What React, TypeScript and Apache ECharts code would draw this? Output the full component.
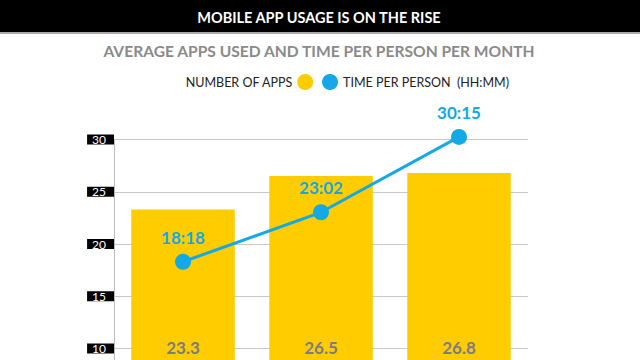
import React, { useEffect, useRef } from "react";
import * as echarts from "echarts";

const categories = ["A", "B", "C"];
const appCounts = [23.3, 26.5, 26.8];
const timePerPerson = ["18:18", "23:02", "30:15"];
const yTicks = [5, 10, 15, 20, 25, 30];

const toHours = (s: string) => {
  const [h, m] = s.split(":").map(Number);
  return h + m / 60;
};

const YELLOW = "#FFCC00";
const BLUE = "#14A9E6";
const FONT = "Lato, 'Open Sans', sans-serif";

export default function App() {
  const ref = useRef<HTMLDivElement>(null);
  useEffect(() => {
    if (!ref.current) return;
    const chart = echarts.init(ref.current, null, { renderer: "svg" });
    chart.setOption({
      animation: false,
      textStyle: { fontFamily: FONT },
      graphic: [
        { type: "rect", shape: { x: 0, y: 0, width: 640, height: 32 }, style: { fill: "#000" } },
        { type: "rect", shape: { x: 0, y: 32, width: 640, height: 2 }, style: { fill: "#aaa" } },
        {
          type: "text",
          x: 319,
          y: 17.5,
          style: {
            text: "MOBILE APP USAGE IS ON THE RISE",
            fill: "#fff",
            font: `bold 14.5px ${FONT}`,
            textAlign: "center",
            textVerticalAlign: "middle",
          },
        },
        {
          type: "text",
          x: 319,
          y: 51,
          style: {
            text: "AVERAGE APPS USED AND TIME PER PERSON PER MONTH",
            fill: "#8a8a8a",
            font: `bold 15.6px ${FONT}`,
            textAlign: "center",
            textVerticalAlign: "middle",
          },
        },
      ],
      legend: [
        {
          data: ["NUMBER OF APPS"],
          left: 185,
          top: 74,
          padding: 0,
          align: "right",
          icon: "circle",
          itemWidth: 16,
          itemHeight: 16,
          textStyle: { color: "#222", fontSize: 12.5, fontFamily: FONT },
        },
        {
          data: ["TIME PER PERSON  (HH:MM)"],
          left: 322,
          top: 74,
          padding: 0,
          align: "left",
          icon: "circle",
          itemWidth: 16,
          itemHeight: 16,
          textStyle: { color: "#222", fontSize: 12.5, fontFamily: FONT },
        },
      ],
      grid: { left: 114, right: 112, top: 139.5, height: 261.25, outerBoundsMode: "none", containLabel: false },
      xAxis: {
        type: "category",
        data: categories,
        axisLine: { show: false },
        axisTick: { show: false },
        axisLabel: { show: false },
      },
      yAxis: {
        type: "value",
        min: yTicks[0],
        max: yTicks[yTicks.length - 1],
        interval: 5,
        axisLine: { show: true, lineStyle: { color: "#bbb", width: 1 } },
        axisTick: { show: false },
        splitLine: { lineStyle: { color: "#c8c8c8", width: 1 } },
        axisLabel: {
          margin: 0,
          showMinLabel: false,
          color: "#fff",
          backgroundColor: "#000",
          fontSize: 12,
          lineHeight: 10,
          padding: [0, 8, 0, 5],
          fontFamily: FONT,
        },
      },
      series: [
        {
          name: "NUMBER OF APPS",
          type: "bar",
          data: appCounts,
          barCategoryGap: "25%",
          itemStyle: { color: YELLOW },
          label: {
            show: true,
            position: "insideBottom",
            distance: 45,
            color: "#7b7b8b",
            fontSize: 17,
            fontWeight: "bold",
            fontFamily: FONT,
            formatter: (p: any) => p.value.toFixed(1),
          },
        },
        {
          name: "TIME PER PERSON  (HH:MM)",
          type: "line",
          data: timePerPerson.map(toHours),
          clip: false,
          symbol: "circle",
          symbolSize: 16,
          itemStyle: { color: BLUE },
          lineStyle: { color: BLUE, width: 3 },
          label: {
            show: true,
            position: "top",
            distance: 8,
            color: BLUE,
            fontSize: 17,
            fontWeight: "bold",
            fontFamily: FONT,
            formatter: (p: any) => timePerPerson[p.dataIndex],
          },
          z: 5,
        },
      ],
    });
    return () => chart.dispose();
  }, []);
  return <div ref={ref} style={{ width: 640, height: 360, position: "absolute", left: 0, top: 0 }} />;
}
